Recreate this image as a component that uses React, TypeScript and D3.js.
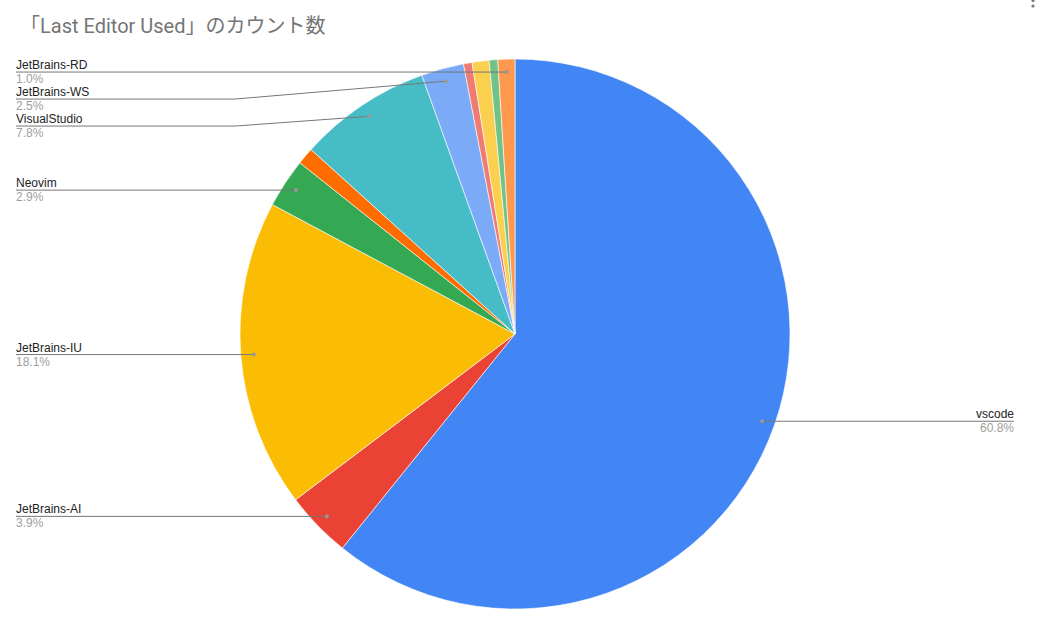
import { useEffect, useRef } from "react";
import * as d3 from "d3";

// editor names in sheet order (clockwise from 12 o'clock)
const editors = [
  "vscode",
  "JetBrains-AI",
  "JetBrains-IU",
  "Neovim",
  "JetBrains-GO",
  "VisualStudio",
  "JetBrains-WS",
  "JetBrains-PS",
  "JetBrains-PY",
  "JetBrains-CL",
  "JetBrains-RD",
];
// share of responses (%)
const shares = [60.8, 3.9, 18.1, 2.9, 1.0, 7.8, 2.5, 0.5, 1.0, 0.5, 1.0];
const colors = [
  "#4285f4",
  "#ea4335",
  "#fbbc04",
  "#34a853",
  "#ff6d01",
  "#46bdc6",
  "#7baaf7",
  "#f07b72",
  "#fcd04f",
  "#71c287",
  "#ff994d",
];
// slices that get a callout label
const labelled = [
  "vscode",
  "JetBrains-AI",
  "JetBrains-IU",
  "Neovim",
  "VisualStudio",
  "JetBrains-WS",
  "JetBrains-RD",
];
const title = "「Last Editor Used」のカウント数";

interface Slice {
  name: string;
  value: number;
  color: string;
}

const data: Slice[] = editors.map((name, i) => ({
  name,
  value: shares[i],
  color: colors[i],
}));

const App = () => {
  const svgRef = useRef<SVGSVGElement>(null);
  const width = 1040;
  const height = 632;

  useEffect(() => {
    if (!svgRef.current) return;
    const svg = d3.select(svgRef.current);
    svg.selectAll("*").remove();

    const cx = 515;
    const cy = 334;
    const radius = 275;
    const labelFont = "Arial, 'Liberation Sans', sans-serif";

    svg
      .append("rect")
      .attr("width", width)
      .attr("height", height)
      .attr("fill", "#fff");

    // title
    svg
      .append("text")
      .attr("x", 20)
      .attr("y", 33)
      .attr("font-family", "Roboto, 'Noto Sans CJK JP', sans-serif")
      .attr("font-size", 20)
      .attr("fill", "#757575")
      .text(title);

    // kebab menu dots
    [-5, 0.5, 6].forEach((y) => {
      svg
        .append("circle")
        .attr("cx", 1033)
        .attr("cy", y)
        .attr("r", 1.6)
        .attr("fill", "#777");
    });

    const total = d3.sum(data, (d) => d.value);
    const pie = d3
      .pie<Slice>()
      .sort(null)
      .value((d) => d.value);
    const arcs = pie(data);

    const arc = d3
      .arc<d3.PieArcDatum<Slice>>()
      .innerRadius(0)
      .outerRadius(radius);

    const g = svg.append("g").attr("transform", `translate(${cx},${cy})`);

    g.selectAll("path")
      .data(arcs)
      .join("path")
      .attr("d", arc)
      .attr("fill", (d) => d.data.color)
      .attr("stroke", "#fff")
      .attr("stroke-width", 0.6);

    // callout labels
    const dotR = radius * 0.953;
    const points = arcs
      .filter((a) => labelled.includes(a.data.name))
      .map((a) => {
        const mid = (a.startAngle + a.endAngle) / 2;
        return {
          a,
          x: cx + dotR * Math.sin(mid),
          y: cy - dotR * Math.cos(mid),
          right: mid < Math.PI,
        };
      });

    const gap = 27;
    const bendX = 235;
    const place = (list: typeof points) => {
      const sorted = [...list].sort((p, q) => p.y - q.y);
      let prev = -Infinity;
      return sorted.map((p) => {
        const ly = Math.max(p.y, prev + gap);
        prev = ly;
        return { ...p, ly };
      });
    };

    const placed = [
      ...place(points.filter((p) => !p.right)),
      ...place(points.filter((p) => p.right)),
    ];

    placed.forEach((p) => {
      const edgeX = p.right ? 1014 : 16;
      const pts: [number, number][] = [[edgeX, p.ly]];
      if (Math.abs(p.ly - p.y) > 0.5) pts.push([p.right ? width - bendX : bendX, p.ly]);
      pts.push([p.x, p.y]);

      svg
        .append("path")
        .attr("d", d3.line()(pts))
        .attr("fill", "none")
        .attr("stroke", "#777")
        .attr("stroke-width", 1);

      svg
        .append("circle")
        .attr("cx", p.x)
        .attr("cy", p.y)
        .attr("r", 2)
        .attr("fill", "#999");

      const anchor = p.right ? "end" : "start";
      svg
        .append("text")
        .attr("x", edgeX)
        .attr("y", p.ly - 3)
        .attr("text-anchor", anchor)
        .attr("font-family", labelFont)
        .attr("font-size", 12)
        .attr("fill", "#222")
        .text(p.a.data.name);

      svg
        .append("text")
        .attr("x", edgeX)
        .attr("y", p.ly + 11)
        .attr("text-anchor", anchor)
        .attr("font-family", labelFont)
        .attr("font-size", 12)
        .attr("fill", "#9e9e9e")
        .text(`${((p.a.data.value / total) * 100).toFixed(1)}%`);
    });
  }, []);

  return (
    <svg
      ref={svgRef}
      width={width}
      height={height}
      style={{ position: "absolute", left: 0, top: 0 }}
    />
  );
};

export default App;
